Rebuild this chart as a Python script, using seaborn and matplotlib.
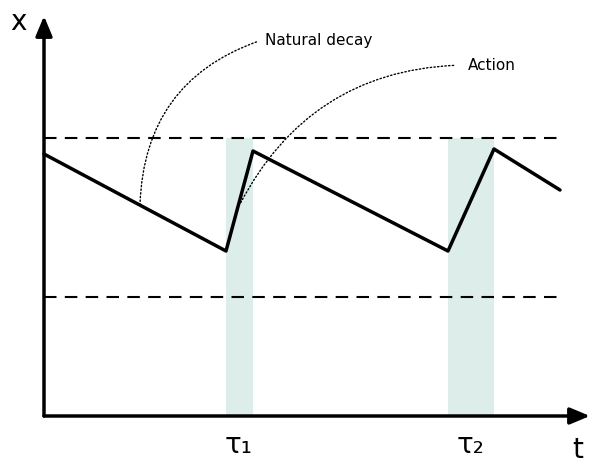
import matplotlib
matplotlib.use("Agg")
import matplotlib.pyplot as plt
import seaborn as sns
import pandas as pd

sns.set_style("white")
plt.rcParams['font.family'] = ['DejaVu Sans']
plt.rcParams['text.color'] = 'black'

# schematic values (time t, state x)
t_vals = [0, 182, 209, 404, 450, 516]
x_vals = [262, 165, 265, 165, 267, 226]
upper = 278
lower = 119
bands = [(182, 209), (404, 450)]
tick_labels = ["τ₁", "τ₂"]
tick_pos = [195, 427]

df = pd.DataFrame({"t": t_vals, "x": x_vals})

fig = plt.figure(figsize=(6.07, 4.77), dpi=100)
ax = fig.add_axes([0, 0, 1, 1])
ax.set_xlim(-44, 563)
ax.set_ylim(-60, 417)
ax.axis("off")

for a, b in bands:
    ax.fill_between([a, b], 0, upper, color="#dcedea", lw=0, zorder=1)
for yv in (upper, lower):
    ax.plot([0, 514], [yv, yv], color="black", lw=1.5, ls=(0, (6, 4)), zorder=2)
sns.lineplot(data=df, x="t", y="x", color="black", lw=2.5, ax=ax, zorder=3)

ax.annotate("", xy=(546, 0), xytext=(0, 0),
            arrowprops=dict(arrowstyle="-|>,head_length=1.2,head_width=0.5", color="black", lw=2.5, shrinkA=0, shrinkB=0))
ax.annotate("", xy=(0, 400), xytext=(0, 0),
            arrowprops=dict(arrowstyle="-|>,head_length=1.2,head_width=0.5", color="black", lw=2.5, shrinkA=0, shrinkB=0))
ax.text(-26, 395, "x", fontsize=20, ha="center", va="center")
ax.text(534, -33, "t", fontsize=20, ha="center", va="center")
for p, l in zip(tick_pos, tick_labels):
    ax.text(p, -28, l, fontsize=20, ha="center", va="center")

ax.annotate("Natural decay", xy=(96, 212), xytext=(221, 377), fontsize=11, va="center",
            arrowprops=dict(arrowstyle="-", ls=":", lw=1, color="black", relpos=(0, 0.5),
                            connectionstyle="arc3,rad=0.35", shrinkA=4, shrinkB=0))
ax.annotate("Action", xy=(196, 212), xytext=(424, 351), fontsize=11, va="center",
            arrowprops=dict(arrowstyle="-", ls=":", lw=1, color="black", relpos=(0, 0.5),
                            connectionstyle="arc3,rad=0.3", shrinkA=8, shrinkB=0))

fig.savefig("out.png", dpi=100)
